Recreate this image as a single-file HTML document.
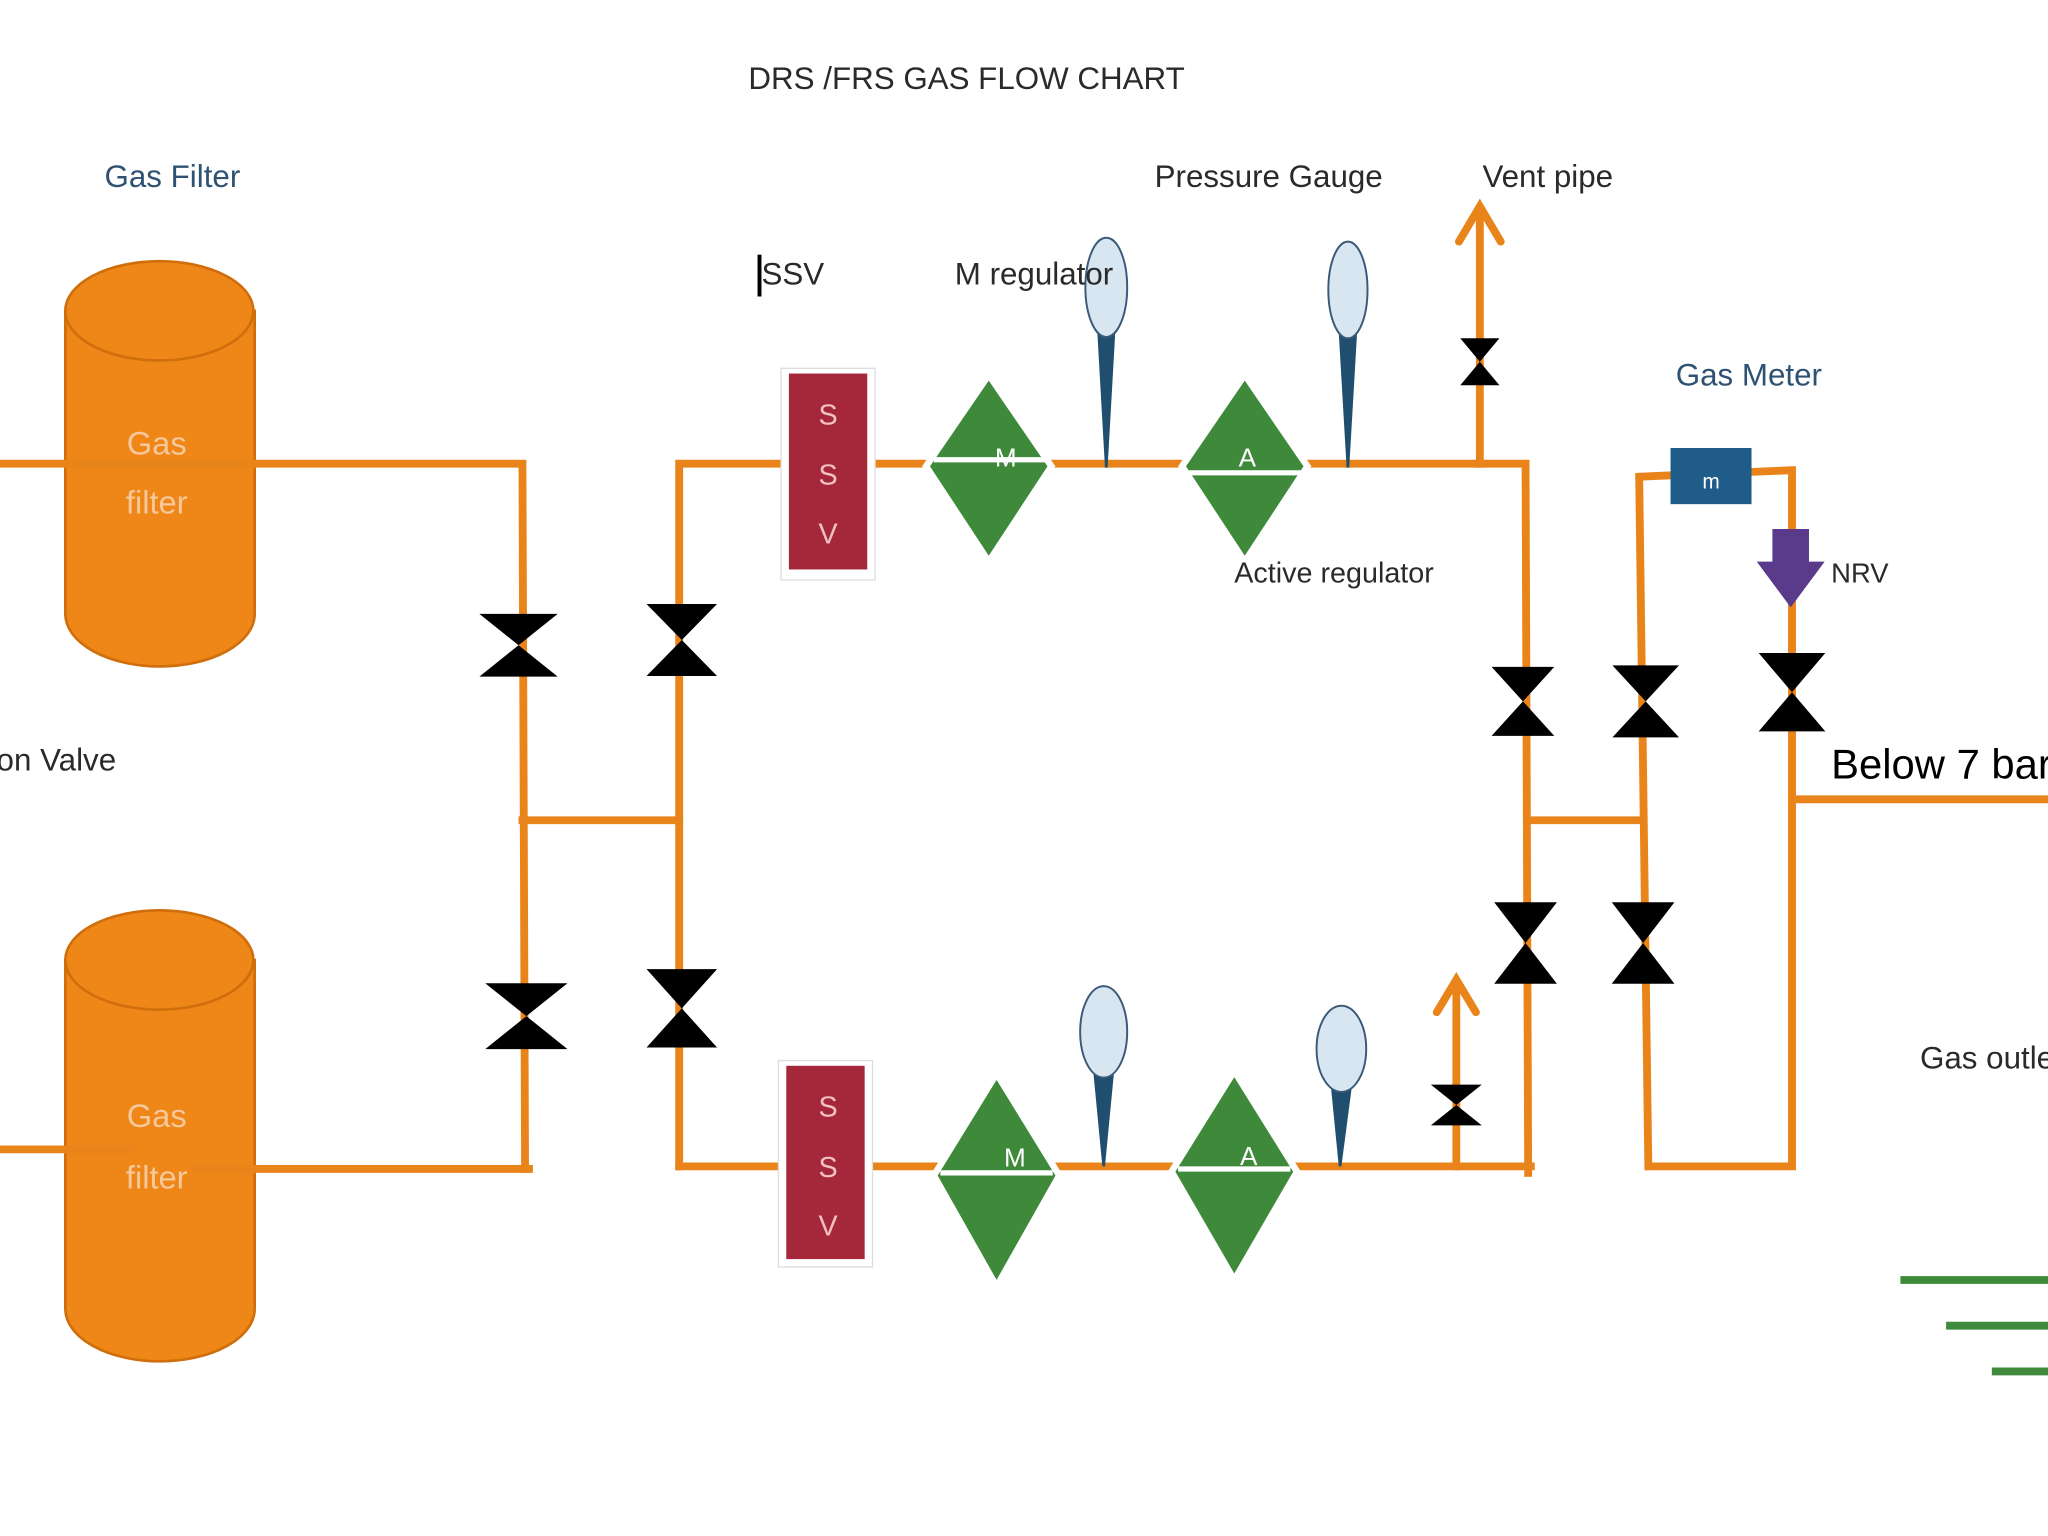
<!DOCTYPE html>
<html><head><meta charset="utf-8"><style>
html,body{margin:0;padding:0;background:#fff;overflow:hidden}
svg{display:block}
text{font-family:"Liberation Sans",sans-serif}
</style></head><body>
<svg width="2048" height="1536" viewBox="0 0 1568 1176" xmlns="http://www.w3.org/2000/svg">
<defs>
<g id="valve"><polygon points="-30,-24 30,-24 0,0" fill="#000"/><polygon points="-30,24 30,24 0,0" fill="#000"/></g>
</defs>
<rect width="1568" height="1176" fill="#fff"/>
<!-- filters -->
<g fill="#EE8618" stroke="#D06E0C" stroke-width="2">
<path d="M50,238 L50,470 A72,40 0 0 0 195,470 L195,238 Z"/>
<ellipse cx="122" cy="238" rx="72" ry="38"/>
<path d="M50,735 L50,1002 A72,40 0 0 0 195,1002 L195,735 Z"/>
<ellipse cx="122" cy="735" rx="72" ry="38"/>
</g>
<g fill="#F6C89A" font-size="25" text-anchor="middle">
<text x="120" y="348">Gas</text><text x="120" y="393">filter</text>
<text x="120" y="863">Gas</text><text x="120" y="910">filter</text>
</g>
<g stroke="#E8841A" stroke-width="6" fill="none" stroke-linecap="square">
<polyline points="0,355 400,355 402,895"/>
<polyline points="0,880 100,880"/>
<polyline points="150,895 405,895"/>
<line x1="400" y1="628" x2="520" y2="628"/>
<polyline points="520,893 520,355 1168,355 1170,898"/>
<line x1="520" y1="893" x2="1172" y2="893"/>
<line x1="1133" y1="355" x2="1133" y2="165"/>
<polyline points="1117,185 1133,158 1149,185" stroke-linecap="round"/>
<line x1="1115" y1="893" x2="1115" y2="755"/>
<polyline points="1100,775 1115,750 1130,775" stroke-linecap="round"/>
<line x1="1170" y1="628" x2="1255" y2="628"/>
<polyline points="1262,893 1255,365 1372,360 1372,893 1262,893"/>
<line x1="1372" y1="612" x2="1568" y2="612"/>
</g>
<!-- valves -->
<use href="#valve" transform="translate(397,494)"/>
<use href="#valve" transform="translate(522,490) scale(0.9,1.15)"/>
<use href="#valve" transform="translate(403,778) scale(1.05,1.05)"/>
<use href="#valve" transform="translate(522,772) scale(0.9,1.25)"/>
<use href="#valve" transform="translate(1166,537) scale(0.8,1.1)"/>
<use href="#valve" transform="translate(1260,537) scale(0.85,1.15)"/>
<use href="#valve" transform="translate(1372,530) scale(0.85,1.25)"/>
<use href="#valve" transform="translate(1168,722) scale(0.8,1.3)"/>
<use href="#valve" transform="translate(1258,722) scale(0.8,1.3)"/>
<use href="#valve" transform="translate(1133,277) scale(0.5,0.75)"/>
<use href="#valve" transform="translate(1115,846) scale(0.65,0.65)"/>
<!-- SSV -->
<g>
<rect x="598" y="282" width="72" height="162" fill="#fff" stroke="#ddd"/>
<rect x="604" y="286" width="60" height="150" fill="#A5283A"/>
<rect x="596" y="812" width="72" height="158" fill="#fff" stroke="#ddd"/>
<rect x="602" y="816" width="60" height="148" fill="#A5283A"/>
</g>
<g fill="#F2C0C0" font-size="22" text-anchor="middle">
<text x="634" y="325">S</text><text x="634" y="371">S</text><text x="634" y="416">V</text>
<text x="634" y="855">S</text><text x="634" y="901">S</text><text x="634" y="946">V</text>
</g>
<!-- regulators -->
<g fill="#3E8A3A" stroke="#fff" stroke-width="5">
<polygon points="757,287 805,357 757,430 709,357"/>
<polygon points="953,287 1001,357 953,430 905,357"/>
<polygon points="763,822 811,900 763,985 715,900"/>
<polygon points="945,820 993,897 945,980 897,897"/>
</g>
<g stroke="#fff" stroke-width="4">
<line x1="715" y1="352" x2="800" y2="352"/><line x1="910" y1="362" x2="996" y2="362"/>
<line x1="720" y1="898" x2="806" y2="898"/><line x1="902" y1="895" x2="988" y2="895"/>
</g>
<g fill="#fff" font-size="20" text-anchor="middle">
<text x="770" y="357">M</text><text x="955" y="357">A</text>
<text x="777" y="893">M</text><text x="956" y="892">A</text>
</g>
<!-- gauges -->
<g fill="#1F4E6E">
<polygon points="840,252 854,252 848,358 846,358"/>
<polygon points="1025,255 1039,255 1033,358 1031,358"/>
<polygon points="837,820 853,820 846,893 844,893"/>
<polygon points="1019,832 1035,832 1027,893 1025,893"/>
</g>
<g fill="#D8E6F2" stroke="#3A5A78" stroke-width="1.5">
<ellipse cx="847" cy="220" rx="16" ry="38"/>
<ellipse cx="1032" cy="222" rx="15" ry="37"/>
<ellipse cx="845" cy="790" rx="18" ry="35"/>
<ellipse cx="1027" cy="803" rx="19" ry="33"/>
</g>
<!-- gas meter -->
<rect x="1279" y="343" width="62" height="43" fill="#1F5C8A"/>
<text x="1310" y="374" fill="#fff" font-size="16" text-anchor="middle">m</text>
<!-- NRV -->
<polygon points="1357,405 1385,405 1385,430 1397,430 1371,465 1345,430 1357,430" fill="#5A3A8A"/>
<!-- green lines -->
<g stroke="#3E8A3A" stroke-width="6">
<line x1="1455" y1="980" x2="1568" y2="980"/>
<line x1="1490" y1="1015" x2="1568" y2="1015"/>
<line x1="1525" y1="1050" x2="1568" y2="1050"/>
</g>
<!-- labels -->
<g font-size="24" fill="#2A2A2A">
<text x="573" y="68">DRS /FRS GAS FLOW CHART</text>
<text x="80" y="143" fill="#2F5272">Gas Filter</text>
<text x="884" y="143">Pressure Gauge</text>
<text x="1135" y="143">Vent pipe</text>
<text x="583" y="218">SSV</text>
<text x="731" y="218">M regulator</text>
<text x="1283" y="295" fill="#2F5272">Gas Meter</text>
<text x="945" y="446" font-size="22">Active regulator</text>
<text x="1402" y="446" font-size="21">NRV</text>
<text x="-8" y="590">ion Valve</text>
<text x="1470" y="818">Gas outlet</text>
<text x="1402" y="596" font-size="32" fill="#000">Below 7 bar</text>
</g>
<rect x="580" y="195" width="3" height="32" fill="#000"/>
</svg>
</body></html>
